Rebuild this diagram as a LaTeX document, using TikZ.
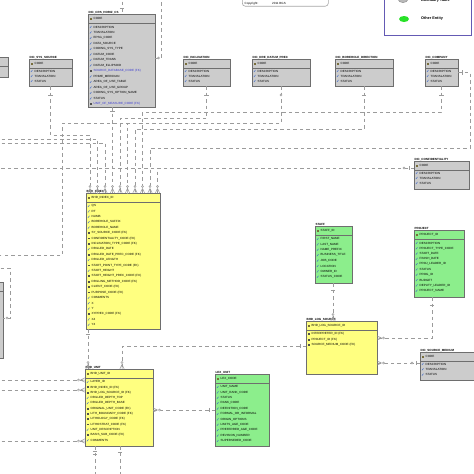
\documentclass[tikz,border=0pt]{standalone}
\usepackage{fontspec}
\setmainfont{Liberation Sans}
\usetikzlibrary{calc,shapes.geometric}
\definecolor{grfill}{RGB}{204,204,204}
\definecolor{yefill}{RGB}{255,255,128}
\definecolor{gnfill}{RGB}{140,238,140}
\definecolor{entline}{RGB}{110,110,110}
\definecolor{relc}{RGB}{155,155,155}
\definecolor{legc}{RGB}{100,90,180}
\definecolor{leggreen}{RGB}{40,225,40}
\definecolor{fkblue}{RGB}{60,60,210}
\definecolor{attrc}{RGB}{70,110,200}
\definecolor{fkc}{RGB}{80,80,80}
\definecolor{pkc}{RGB}{120,110,60}
\tikzset{
  ent/.style={draw=entline, line width=0.6pt, rectangle, inner sep=0pt, outer sep=0pt},
  grybox/.style={ent, fill=grfill},
  yelbox/.style={ent, fill=yefill},
  grnbox/.style={ent, fill=gnfill},
  ttl/.style={font=\fontsize{3}{3.5}\selectfont\bfseries, inner sep=0.4pt, anchor=south west},
  rt/.style={font=\fontsize{3}{3.5}\selectfont, inner sep=0pt, anchor=west},
  lgt/.style={font=\fontsize{3.8}{4.2}\selectfont\bfseries, inner sep=0pt, anchor=west},
  rel/.style={draw=relc, line width=0.5pt, dash pattern=on 3.5pt off 3pt},
  mk/.style={draw=relc, line width=0.5pt},
  sepl/.style={draw=entline, line width=0.5pt},
}
% entity: name, x, y, w, h, style, title, key
\newcommand\erent[8]{%
  \node[#6, minimum width=#4pt, minimum height=#5pt, anchor=north west] (#1) at (#2,#3) {};
  \node[ttl] (#1-tt) at (#1.north west) {#7};
  \node[rt] (#1-pk) at ($(#1.north west)+(5.5,4.5)$) {#8};
  \fill[pkc] ($(#1.north west)+(1.8,3.5)$) rectangle ($(#1.north west)+(4,5.5)$);
  \draw[sepl] ($(#1.north west)+(0,9)$) -- ($(#1.north east)+(0,9)$);
}
% rows: name, first offset, spacing, list text/kind
\newcommand\entrows[4]{%
  \foreach \rtxt/\rk [count=\i] in {#4}{%
    \pgfmathsetmacro\yy{#2+(\i-1)*#3}%
    \ifnum\rk=2\relax
      \node[rt, text=fkblue] (#1-r\i) at ($(#1.north west)+(5.5,\yy)$) {\rtxt};
    \else
      \node[rt] (#1-r\i) at ($(#1.north west)+(5.5,\yy)$) {\rtxt};
    \fi
    \ifnum\rk=0\relax
      \draw[attrc, line width=0.5pt] ($(#1-r\i.west)+(-3.6,1)$) -- ($(#1-r\i.west)+(-2,-1)$);
    \else
      \fill[fkc] ($(#1-r\i.west)+(-4,1)$) rectangle ($(#1-r\i.west)+(-1.8,-0.9)$);
    \fi
  }%
}
\newcommand\mkhb[1]{\draw[mk] (#1) ++(-2.2,0) -- ++(4.4,0);}
\newcommand\mkvb[1]{\draw[mk] (#1) ++(0,-2.2) -- ++(0,4.4);}
\newcommand\mkoc[1]{\draw[mk, fill=white] (#1) circle[radius=1.1pt];}
\newcommand\mkcfD[1]{\draw[mk] (#1) ++(0,-4.5) -- ++(-2.2,4.5) (#1) ++(0,-4.5) -- (#1) (#1) ++(0,-4.5) -- ++(2.2,4.5);
  \draw[mk, fill=white] (#1) ++(0,-6.5) circle[radius=1.1pt];}
\newcommand\mkcfR[1]{\draw[mk] (#1) ++(4.5,0) -- ++(-4.5,-2.2) (#1) ++(4.5,0) -- (#1) (#1) ++(4.5,0) -- ++(-4.5,2.2);
  \draw[mk, fill=white] (#1) ++(6.5,0) circle[radius=1.1pt];}
\newcommand\mkcfL[1]{\draw[mk] (#1) ++(-4.5,0) -- ++(4.5,-2.2) (#1) ++(-4.5,0) -- (#1) (#1) ++(-4.5,0) -- ++(4.5,2.2);
  \draw[mk, fill=white] (#1) ++(-6.5,0) circle[radius=1.1pt];}
\begin{document}
\catcode`\_=12
\begin{tikzpicture}[x=1pt,y=-1pt]
\useasboundingbox (0,0) rectangle (474,474);
\fill[white] (0,0) rectangle (474,474);

% copyright and legend
\node[draw=gray!70, line width=0.6pt, rounded corners=3pt, minimum width=86pt, minimum height=20pt, anchor=south west, inner sep=0pt] (cpr) at (242,6.5) {};
\node[rt] (cpr-a) at (244.5,3.8) {Copyright:};
\node[rt] (cpr-b) at (272,3.8) {2011 BGS};
\node[draw=legc, line width=1.1pt, minimum width=87pt, minimum height=60pt, anchor=south west, inner sep=0pt] (leg) at (384,36) {};
\node[ellipse, fill=gray!55, draw=gray, minimum width=9pt, minimum height=5pt, inner sep=0pt] (leg-i1) at (403,0) {};
\node[lgt] (leg-t1) at (421,0.5) {Boundary Table};
\node[ellipse, fill=leggreen, minimum width=10pt, minimum height=6pt, inner sep=0pt] (leg-i2) at (404,19) {};
\node[lgt] (leg-t2) at (421,19) {Other Entity};

% entities
\erent{LB1}{-30}{57}{38}{20}{grybox}{}{}
\erent{LB2}{-30}{282}{33}{76}{grybox}{}{}
\erent{DSS}{29}{59}{43}{27}{grybox}{DIC_SYS_SOURCE}{CODE}
\entrows{DSS}{12}{5}{DESCRIPTION/0,TRANSLATION/0,STATUS/0}
\erent{DDH}{88}{14}{67}{93}{grybox}{DIC_CRS_HORIZ_CS}{CODE}
\entrows{DDH}{13}{5.5}{DESCRIPTION/0,TRANSLATION/0,EPSG_CODE/0,DATA_SOURCE/0,CODING_SYS_TYPE/0,DATUM_CODE/0,DATUM_TRANS/0,DATUM_ELLIPSOID/0,SOURCE_DATABASE_CODE (FK)/2,PRIME_MERIDIAN/0,AREA_OF_USE_TABLE/0,AREA_OF_USE_GROUP/0,CODING_SYS_OPTION_NAME/0,STATUS/0,UNIT_OF_MEASURE_CODE (FK)/2}
\erent{DIN}{183}{59}{47}{27}{grybox}{DIC_INCLINATION}{CODE}
\entrows{DIN}{12}{5}{DESCRIPTION/0,TRANSLATION/0,STATUS/0}
\erent{DDP}{252}{59}{58}{27}{grybox}{DIC_DRE_DATUM_PREC}{CODE}
\entrows{DDP}{12}{5}{DESCRIPTION/0,TRANSLATION/0,STATUS/0}
\erent{DBD}{335}{59}{58}{27}{grybox}{DIC_BOREHOLE_DIRECTION}{CODE}
\entrows{DBD}{12}{5}{DESCRIPTION/0,TRANSLATION/0,STATUS/0}
\erent{DCO}{425}{59}{33}{27}{grybox}{DIC_COMPANY}{CODE}
\entrows{DCO}{12}{5}{DESCRIPTION/0,TRANSLATION/0,STATUS/0}
\erent{DCF}{414}{161}{55}{28}{grybox}{DIC_CONFIDENTIALITY}{CODE}
\entrows{DCF}{12}{5}{DESCRIPTION/0,TRANSLATION/0,STATUS/0}
\erent{BI}{86}{193}{74}{136}{yelbox}{BHD_INDEX}{BHD_INDEX_ID}
\entrows{BI}{13}{5.4}{QS/0,RT/0,NUMB/0,BOREHOLE_SUFFIX/0,BOREHOLE_NAME/0,SY_SOURCE_CODE (FK)/1,CONFIDENTIALITY_CODE (FK)/1,INCLINATION_TYPE_CODE (FK)/1,DRILLED_DATE/0,DRILLED_DATE_PREC_CODE (FK)/1,DRILLED_LENGTH/0,START_POINT_TYPE_CODE (FK)/1,START_HEIGHT/0,START_HEIGHT_PREC_CODE (FK)/1,DRILLING_METHOD_CODE (FK)/1,CLIENT_CODE (FK)/1,PURPOSE_CODE (FK)/1,COMMENTS/0,X/0,Y/0,XYPREC_CODE (FK)/1,X4/0,Y4/0}
\erent{STF}{315}{226}{37}{57}{grnbox}{STAFF}{STAFF_ID}
\entrows{STF}{13}{5.4}{FIRST_NAME/0,LAST_NAME/0,NAME_PREFIX/0,BUSINESS_TITLE/0,JOB_CODE/0,LOCATION/0,OWNER_ID/0,STATUS_CODE/0}
\erent{PRJ}{414}{230}{50}{67}{grnbox}{PROJECT}{PROJECT_ID}
\entrows{PRJ}{13}{5.3}{DESCRIPTION/0,PROJECT_TYPE_CODE/0,START_DATE/0,FINISH_DATE/0,PROJ_LEADER_ID/0,STATUS/0,PROG_ID/0,BUDGET/0,DEPUTY_LEADER_ID/0,PROJECT_NAME/0}
\erent{BLS}{306}{321}{71}{53}{yelbox}{BHD_LOG_SOURCE}{BHD_LOG_SOURCE_ID}
\entrows{BLS}{13}{5.5}{INTERPRETER_ID (FK)/1,PROJECT_ID (FK)/1,SOURCE_MEDIUM_CODE (FK)/1}
\erent{DSM}{420}{352}{70}{28}{grybox}{DIC_SOURCE_MEDIUM}{CODE}
\entrows{DSM}{12}{5.3}{DESCRIPTION/0,TRANSLATION/0,STATUS/0}
\erent{BU}{85}{369}{68}{77}{yelbox}{BHD_UNIT}{BHD_UNIT_ID}
\entrows{BU}{13}{5.3}{LAYER_ID/0,BHD_INDEX_ID (FK)/1,BHD_LOG_SOURCE_ID (FK)/1,DRILLED_DEPTH_TOP/0,DRILLED_DEPTH_BASE/0,ORIGINAL_UNIT_CODE (FK)/1,LITH_BOUNDARY_CODE (FK)/1,LITHOLOGY_CODE (FK)/1,LITHOSTRAT_CODE (FK)/1,UNIT_DESCRIPTION/0,BASIS_SUB_CODE (FK)/1,COMMENTS/0}
\erent{LU}{215}{374}{54}{72}{grnbox}{LEX_UNIT}{LEX_CODE}
\entrows{LU}{13}{5.4}{UNIT_NAME/0,UNIT_RANK_CODE/0,STATUS/0,RANK_CODE/0,DEFINITION_CODE/0,FORMAL_OR_INFORMAL/0,ORIGIN_OPTIONS/0,LIMITS_AGE_CODE/0,PREFERRED_AGE_CODE/0,REVISION_NUMBER/0,SUPERSEDED_CODE/0}

% coordinates
\foreach \j in {0,...,9} {\coordinate (BIf\j) at ($(BI.north west)+({4+7.5*\j},0)$);}
\coordinate (L139) at (-5,139);
\coordinate (L143) at (-5,143);
\coordinate (L168) at (-5,168);
\coordinate (L255) at (-5,255);
\coordinate (j62) at (62,123);
\coordinate (T122) at (122,-5);
\coordinate (T161) at (161,-5);
\coordinate (BUf0) at ($(BU.north west)+(3,0)$);
\coordinate (BUf1) at ($(BU.north west)+(37,0)$);
\coordinate (BLSt) at ($(BLS.north west)+(27,0)$);
\coordinate (BLSr1) at ($(BLS.north east)+(0,17)$);
\coordinate (BLSr2) at ($(BLS.north east)+(0,42)$);
\coordinate (BUl1) at ($(BU.north west)+(0,11)$);
\coordinate (BUl2) at ($(BU.north west)+(0,21)$);
\coordinate (BUl3) at ($(BU.north west)+(0,72)$);
\coordinate (L380) at (-5,380);
\coordinate (L390) at (-5,390);
\coordinate (L441) at (-5,441);
\coordinate (BUr) at ($(BU.north east)+(0,41)$);
\coordinate (LUl) at ($(LU.north west)+(0,36)$);
\coordinate (BUb1) at ($(BU.south west)+(10,0)$);
\coordinate (BUb2) at ($(BU.south west)+(35,0)$);
\coordinate (B1) at (95,480);
\coordinate (B2) at (120,480);
\coordinate (k1) at (10,268);

% connectors
\draw[rel] (T122) -- ($(DDH.north west)+(34,0)$);
\draw[rel] ($(DDH.north east)+(0,44)$) -| (T161);
\draw[rel] (DSS.south) -- ++(0,49) -| (BIf0);
\draw[rel] (L139) -| (BIf1);
\draw[rel] (L143) -| (BIf2);
\draw[rel] (DDH.south -| BIf3) -- (BIf3);
\draw[rel] (DIN.south) -- ++(0,32) -| (BIf4);
\draw[rel] (DDP.south) -- ++(0,37) -| (BIf5);
\draw[rel] (DDP.south) |- (j62) |- (L255);
\draw[rel] (DBD.south) -- ++(0,43) -| (BIf6);
\draw[rel] (DCO.south) -- ++(0,26) -| (BIf7);
\draw[rel] (DCO.east) -- ++(12,0) -- ++(0,75.5) -| (BIf8);
\draw[rel] ($(DCF.north west)+(0,7)$) -| (BIf9);
\draw[rel] ($(DCF.north west)+(0,7)$) -- (L168);
\draw[rel] (BI.south west -| BUf0) -- (BUf0);
\draw[rel] ($(BLS.north west)+(0,25)$) -| (BUf1);
\draw[rel] (STF.south -| BLSt) -- (BLSt);
\draw[rel] ($(PRJ.south west)+(18,0)$) |- (BLSr1);
\draw[rel] ($(DSM.north west)+(0,11)$) -- (BLSr2);
\draw[rel] (L380) -- (BUl1);
\draw[rel] (L390) -- (BUl2);
\draw[rel] (L441) -- (BUl3);
\draw[rel] (BUr) -- (LUl);
\draw[rel] (BUb1) -- (B1);
\draw[rel] (BUb2) -- (B2);
\draw[rel] ($(LB2.north east)+(-8,0)$) |- (k1) |- ($(LB2.north east)+(0,36)$);

% markers
\mkhb{122,8}
\mkoc{158.5,58}
\mkhb{112.5,111}
\mkhb{50.5,95}
\mkhb{206.5,95}
\mkoc{281,95}
\mkhb{364,95}
\mkhb{441.5,95}
\mkvb{462,72.5}
\mkvb{409,168}
\mkoc{404,168}
\foreach \j in {0,...,9} {\mkcfD{BIf\j}}
\mkhb{88,334}
\mkcfD{BUf0}
\mkcfD{BUf1}
\mkvb{300,346}
\mkhb{333,290}
\mkcfD{BLSt}
\mkhb{432,305}
\mkcfR{BLSr1}
\mkvb{416.5,363}
\mkoc{412,363}
\mkcfR{BLSr2}
\mkcfL{BUl1}
\mkcfL{BUl2}
\mkcfL{BUl3}
\mkcfR{BUr}
\mkvb{209,410}
\mkhb{95,451}
\mkhb{95,454}
\mkhb{120,452}
\mkoc{7,318}
\end{tikzpicture}
\end{document}
